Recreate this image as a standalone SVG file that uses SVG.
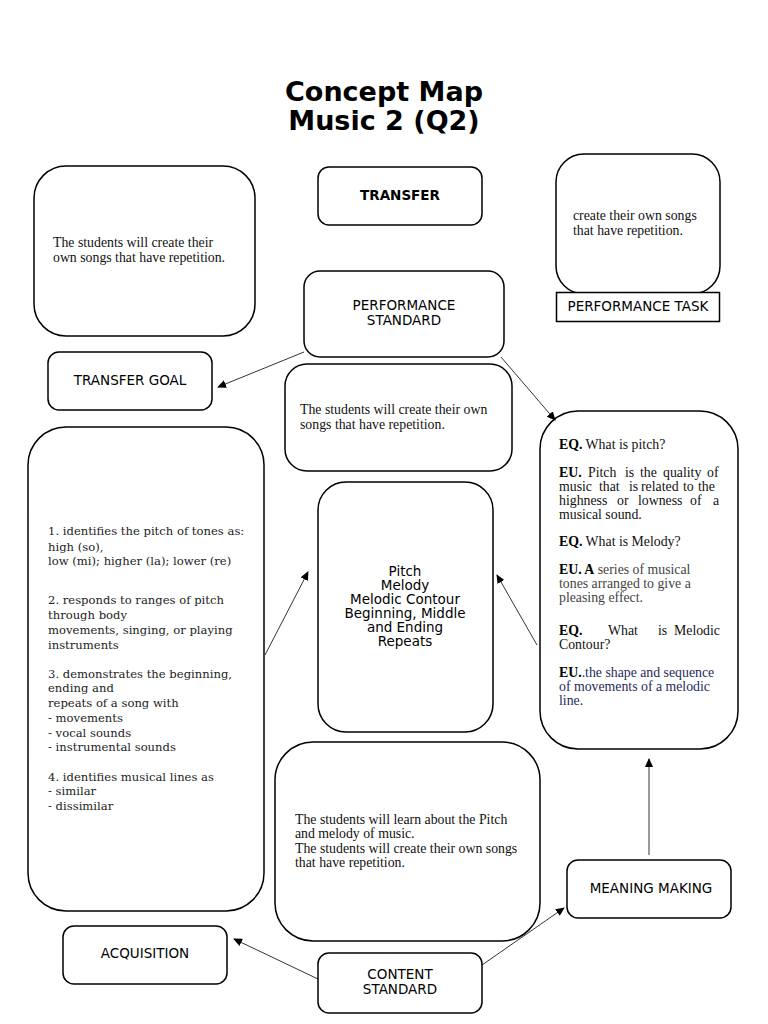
<svg xmlns="http://www.w3.org/2000/svg" width="768" height="1024" viewBox="0 0 768 1024">
<defs>
<marker id="arr" markerWidth="9" markerHeight="8" refX="8" refY="4" orient="auto" markerUnits="userSpaceOnUse">
<path d="M0,0 L9,4 L0,8 z" fill="#000"/>
</marker>
<style>
.box{fill:#fff;stroke:#000;stroke-width:1.5}
.lab{font-family:"DejaVu Sans",Verdana,sans-serif;font-size:13.5px;fill:#000;text-anchor:middle}
.serif{font-family:"Liberation Serif","Times New Roman",serif;font-size:13.8px;fill:#111}
.ds{font-family:"DejaVu Serif",serif;font-size:11.6px;fill:#222}
.b{font-weight:bold;fill:#000}
.con{stroke:#000;stroke-width:0.8;fill:none;marker-end:url(#arr)}
</style>
</defs>
<rect width="768" height="1024" fill="#fff"/>
<g id="title" font-family="'DejaVu Sans',Verdana,sans-serif" font-weight="bold" font-size="27" text-anchor="middle">
<text x="384" y="101">Concept Map</text>
<text x="384" y="130">Music 2 (Q2)</text>
</g>
<g id="transfer-goal-text">
<rect class="box" x="34" y="166" width="221" height="170" rx="32"/>
<text class="serif" x="53" y="247">The students will create their</text>
<text class="serif" x="53" y="262">own songs that have repetition.</text>
</g>
<g id="transfer">
<rect class="box" x="318" y="167" width="164" height="58" rx="11"/>
<text class="lab" x="400" y="200" font-weight="bold">TRANSFER</text>
</g>
<g id="performance-task-text">
<rect class="box" x="556" y="154" width="164" height="140" rx="28"/>
<text class="serif" x="573" y="220">create their own songs</text>
<text class="serif" x="573" y="235">that have repetition.</text>
</g>
<g id="performance-task">
<rect class="box" x="556.5" y="292.5" width="163" height="29" rx="0"/>
<text class="lab" x="638" y="311">PERFORMANCE TASK</text>
</g>
<g id="performance-standard">
<rect class="box" x="304" y="271" width="200" height="86" rx="16"/>
<text class="lab" x="404" y="310">PERFORMANCE</text>
<text class="lab" x="404" y="325">STANDARD</text>
</g>
<g id="transfer-goal">
<rect class="box" x="48" y="352" width="164" height="58" rx="11"/>
<text class="lab" x="130" y="385">TRANSFER GOAL</text>
</g>
<g id="performance-standard-text">
<rect class="box" x="285" y="364" width="227" height="107" rx="22"/>
<text class="serif" x="300" y="414">The students will create their own</text>
<text class="serif" x="300" y="429">songs that have repetition.</text>
</g>
<g id="competencies">
<rect class="box" x="28" y="427" width="236" height="484" rx="38"/>
<g class="ds">
<text x="48" y="535">1. identifies the pitch of tones as:</text>
<text x="48" y="551">high (so),</text>
<text x="48" y="565">low (mi); higher (la); lower (re)</text>
<text x="48" y="604">2. responds to ranges of pitch</text>
<text x="48" y="619">through body</text>
<text x="48" y="634">movements, singing, or playing</text>
<text x="48" y="649">instruments</text>
<text x="48" y="678">3. demonstrates the beginning,</text>
<text x="48" y="692">ending and</text>
<text x="48" y="707">repeats of a song with</text>
<text x="48" y="722">- movements</text>
<text x="48" y="737">- vocal sounds</text>
<text x="48" y="751">- instrumental sounds</text>
<text x="48" y="781">4. identifies musical lines as</text>
<text x="48" y="795">- similar</text>
<text x="48" y="810">- dissimilar</text>
</g>
</g>
<g id="topics">
<rect class="box" x="318" y="482" width="175" height="250" rx="28"/>
<text class="lab" x="405" y="576">Pitch</text>
<text class="lab" x="405" y="590">Melody</text>
<text class="lab" x="405" y="604">Melodic Contour</text>
<text class="lab" x="405" y="618">Beginning, Middle</text>
<text class="lab" x="405" y="632">and Ending</text>
<text class="lab" x="405" y="646">Repeats</text>
</g>
<g id="eq-eu">
<rect class="box" x="540" y="411" width="198" height="338" rx="38"/>
<g class="serif">
<text x="559" y="449"><tspan class="b">EQ.</tspan> What is pitch?</text>
<text y="477"><tspan x="559" class="b">EU.</tspan><tspan x="588">Pitch</tspan><tspan x="625">is</tspan><tspan x="640">the</tspan><tspan x="663">quality</tspan><tspan x="707">of</tspan></text>
<text y="491"><tspan x="559">music</tspan><tspan x="599">that</tspan><tspan x="629">is</tspan><tspan x="641">related</tspan><tspan x="683">to</tspan><tspan x="698">the</tspan></text>
<text y="505"><tspan x="559">highness</tspan><tspan x="617">or</tspan><tspan x="638">lowness</tspan><tspan x="690">of</tspan><tspan x="713">a</tspan></text>
<text x="559" y="519">musical sound.</text>
<text x="559" y="546"><tspan class="b">EQ.</tspan> What is Melody?</text>
<text x="559" y="574" fill="#444"><tspan class="b">EU. A</tspan> series of musical</text>
<text x="559" y="588" fill="#444">tones arranged to give a</text>
<text x="559" y="602" fill="#444">pleasing effect.</text>
<text y="635"><tspan x="559" class="b">EQ.</tspan><tspan x="608">What</tspan><tspan x="658">is</tspan><tspan x="674">Melodic</tspan></text>
<text x="559" y="649">Contour?</text>
<text x="559" y="677" fill="#1f2b5c"><tspan class="b">EU.</tspan>.the shape and sequence</text>
<text x="559" y="691" fill="#1f2b5c">of movements of a melodic</text>
<text x="559" y="705" fill="#1f2b5c">line.</text>
</g>
</g>
<g id="content-standard-text">
<rect class="box" x="275" y="742" width="265" height="199" rx="38"/>
<text class="serif" x="295" y="824">The students will learn about the Pitch</text>
<text class="serif" x="295" y="838">and melody of music.</text>
<text class="serif" x="295" y="853">The students will create their own songs</text>
<text class="serif" x="295" y="867">that have repetition.</text>
</g>
<g id="meaning-making">
<rect class="box" x="567" y="860" width="164" height="58" rx="11"/>
<text class="lab" x="651" y="893">MEANING MAKING</text>
</g>
<g id="acquisition">
<rect class="box" x="63" y="926" width="164" height="58" rx="11"/>
<text class="lab" x="145" y="958">ACQUISITION</text>
</g>
<g id="content-standard">
<rect class="box" x="318" y="953" width="164" height="60" rx="11"/>
<text class="lab" x="400" y="979">CONTENT</text>
<text class="lab" x="400" y="994">STANDARD</text>
</g>
<g id="connectors">
<line class="con" x1="304" y1="352" x2="218" y2="387"/>
<line class="con" x1="501" y1="357" x2="555" y2="420"/>
<line class="con" x1="265" y1="655" x2="308" y2="572"/>
<line class="con" x1="537" y1="645" x2="497" y2="575"/>
<line class="con" x1="649" y1="855" x2="649" y2="759"/>
<line class="con" x1="318" y1="979" x2="234" y2="939"/>
<line class="con" x1="482" y1="965" x2="564" y2="908"/>
</g>
</svg>
